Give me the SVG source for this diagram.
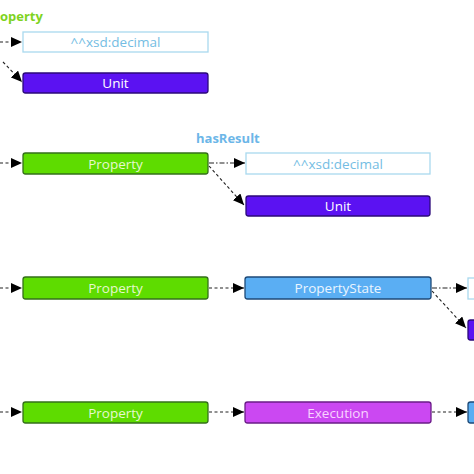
<svg xmlns="http://www.w3.org/2000/svg" width="474" height="474" viewBox="0 0 474 474">
<style>
  text { font-family: "Open Sans", "Noto Sans", "DejaVu Sans", sans-serif; font-size: 13.5px; text-anchor: middle; dominant-baseline: central; }
  .prop rect { fill: #5edc00; stroke: #35701a; stroke-width: 1.3; }
  .prop text { fill: #e6f8cf; }
  .state rect { fill: #5aaef3; stroke: #1e4a78; stroke-width: 1.3; }
  .state text { fill: #eaf5ff; }
  .unit rect { fill: #5b12f2; stroke: #2c0a7a; stroke-width: 1.3; }
  .unit text { fill: #ffffff; }
  .exec rect { fill: #cb48f2; stroke: #6b1d88; stroke-width: 1.3; }
  .exec text { fill: #f9d4ff; }
  .lit rect { fill: #ffffff; stroke: #a9d9ef; stroke-width: 1.3; }
  .lit text { fill: #74bde3; }
  .lbl { font-weight: bold; font-size: 13px; text-anchor: start; }
  .edge { stroke: #222; stroke-width: 1.1; fill: none; marker-end: url(#arr); }
  .dash { stroke-dasharray: 3 2.5; }
  .dashdot { stroke-dasharray: 5 2 1.5 2; }
</style>
<defs>
  <marker id="arr" viewBox="0 0 11 10" refX="11" refY="5" markerWidth="11" markerHeight="10" markerUnits="userSpaceOnUse" orient="auto">
    <path d="M0,0 L11,5 L0,10 Z" fill="#000"/>
  </marker>
</defs>

<text class="lbl" x="0" y="16" fill="#7ed321">operty</text>
<text class="lbl" x="196" y="138" fill="#6cb6e8">hasResult</text>

<g id="connectors">
  <line class="edge dash" x1="0" y1="42" x2="22" y2="42"/>
  <line class="edge dash" x1="3" y1="62" x2="22" y2="82"/>
  <line class="edge dash" x1="0" y1="163" x2="22" y2="163"/>
  <line class="edge dashdot" x1="209" y1="163" x2="245" y2="163"/>
  <line class="edge dash" x1="209" y1="166" x2="244" y2="205"/>
  <line class="edge dash" x1="0" y1="288" x2="22" y2="288"/>
  <line class="edge dash" x1="209" y1="288" x2="244" y2="288"/>
  <line class="edge dashdot" x1="432" y1="288" x2="467" y2="288"/>
  <line class="edge dash" x1="432" y1="291" x2="466" y2="328"/>
  <line class="edge dash" x1="0" y1="412" x2="22" y2="412"/>
  <line class="edge dash" x1="209" y1="412" x2="244" y2="412"/>
  <line class="edge dash" x1="432" y1="412" x2="467" y2="412"/>
</g>

<g id="lit1" class="lit"><rect x="23" y="32" width="185" height="20"/><text x="115.5" y="42">^^xsd:decimal</text></g>
<g id="unit1" class="unit"><rect x="23" y="73" width="185" height="20" rx="2.5"/><text x="115.5" y="83">Unit</text></g>

<g id="prop2" class="prop"><rect x="23" y="153" width="185" height="21" rx="2.5"/><text x="115.5" y="163.5">Property</text></g>
<g id="lit2" class="lit"><rect x="246" y="153" width="184" height="21"/><text x="338" y="163.5">^^xsd:decimal</text></g>
<g id="unit2" class="unit"><rect x="246" y="196" width="184" height="20" rx="2.5"/><text x="338" y="206">Unit</text></g>

<g id="prop3" class="prop"><rect x="23" y="277" width="185" height="22" rx="2.5"/><text x="115.5" y="288">Property</text></g>
<g id="state3" class="state"><rect x="245" y="277" width="186" height="22" rx="2.5"/><text x="338" y="288">PropertyState</text></g>
<g id="lit3" class="lit"><rect x="468" y="278" width="30" height="21"/></g>
<g id="unit3" class="unit"><rect x="468" y="320" width="30" height="20" rx="2.5"/></g>

<g id="prop4" class="prop"><rect x="23" y="402" width="185" height="21" rx="2.5"/><text x="115.5" y="412.5">Property</text></g>
<g id="exec4" class="exec"><rect x="245" y="402" width="186" height="21" rx="2.5"/><text x="338" y="412.5">Execution</text></g>
<g id="state4" class="state"><rect x="468" y="402" width="30" height="21" rx="2.5"/></g>
</svg>
